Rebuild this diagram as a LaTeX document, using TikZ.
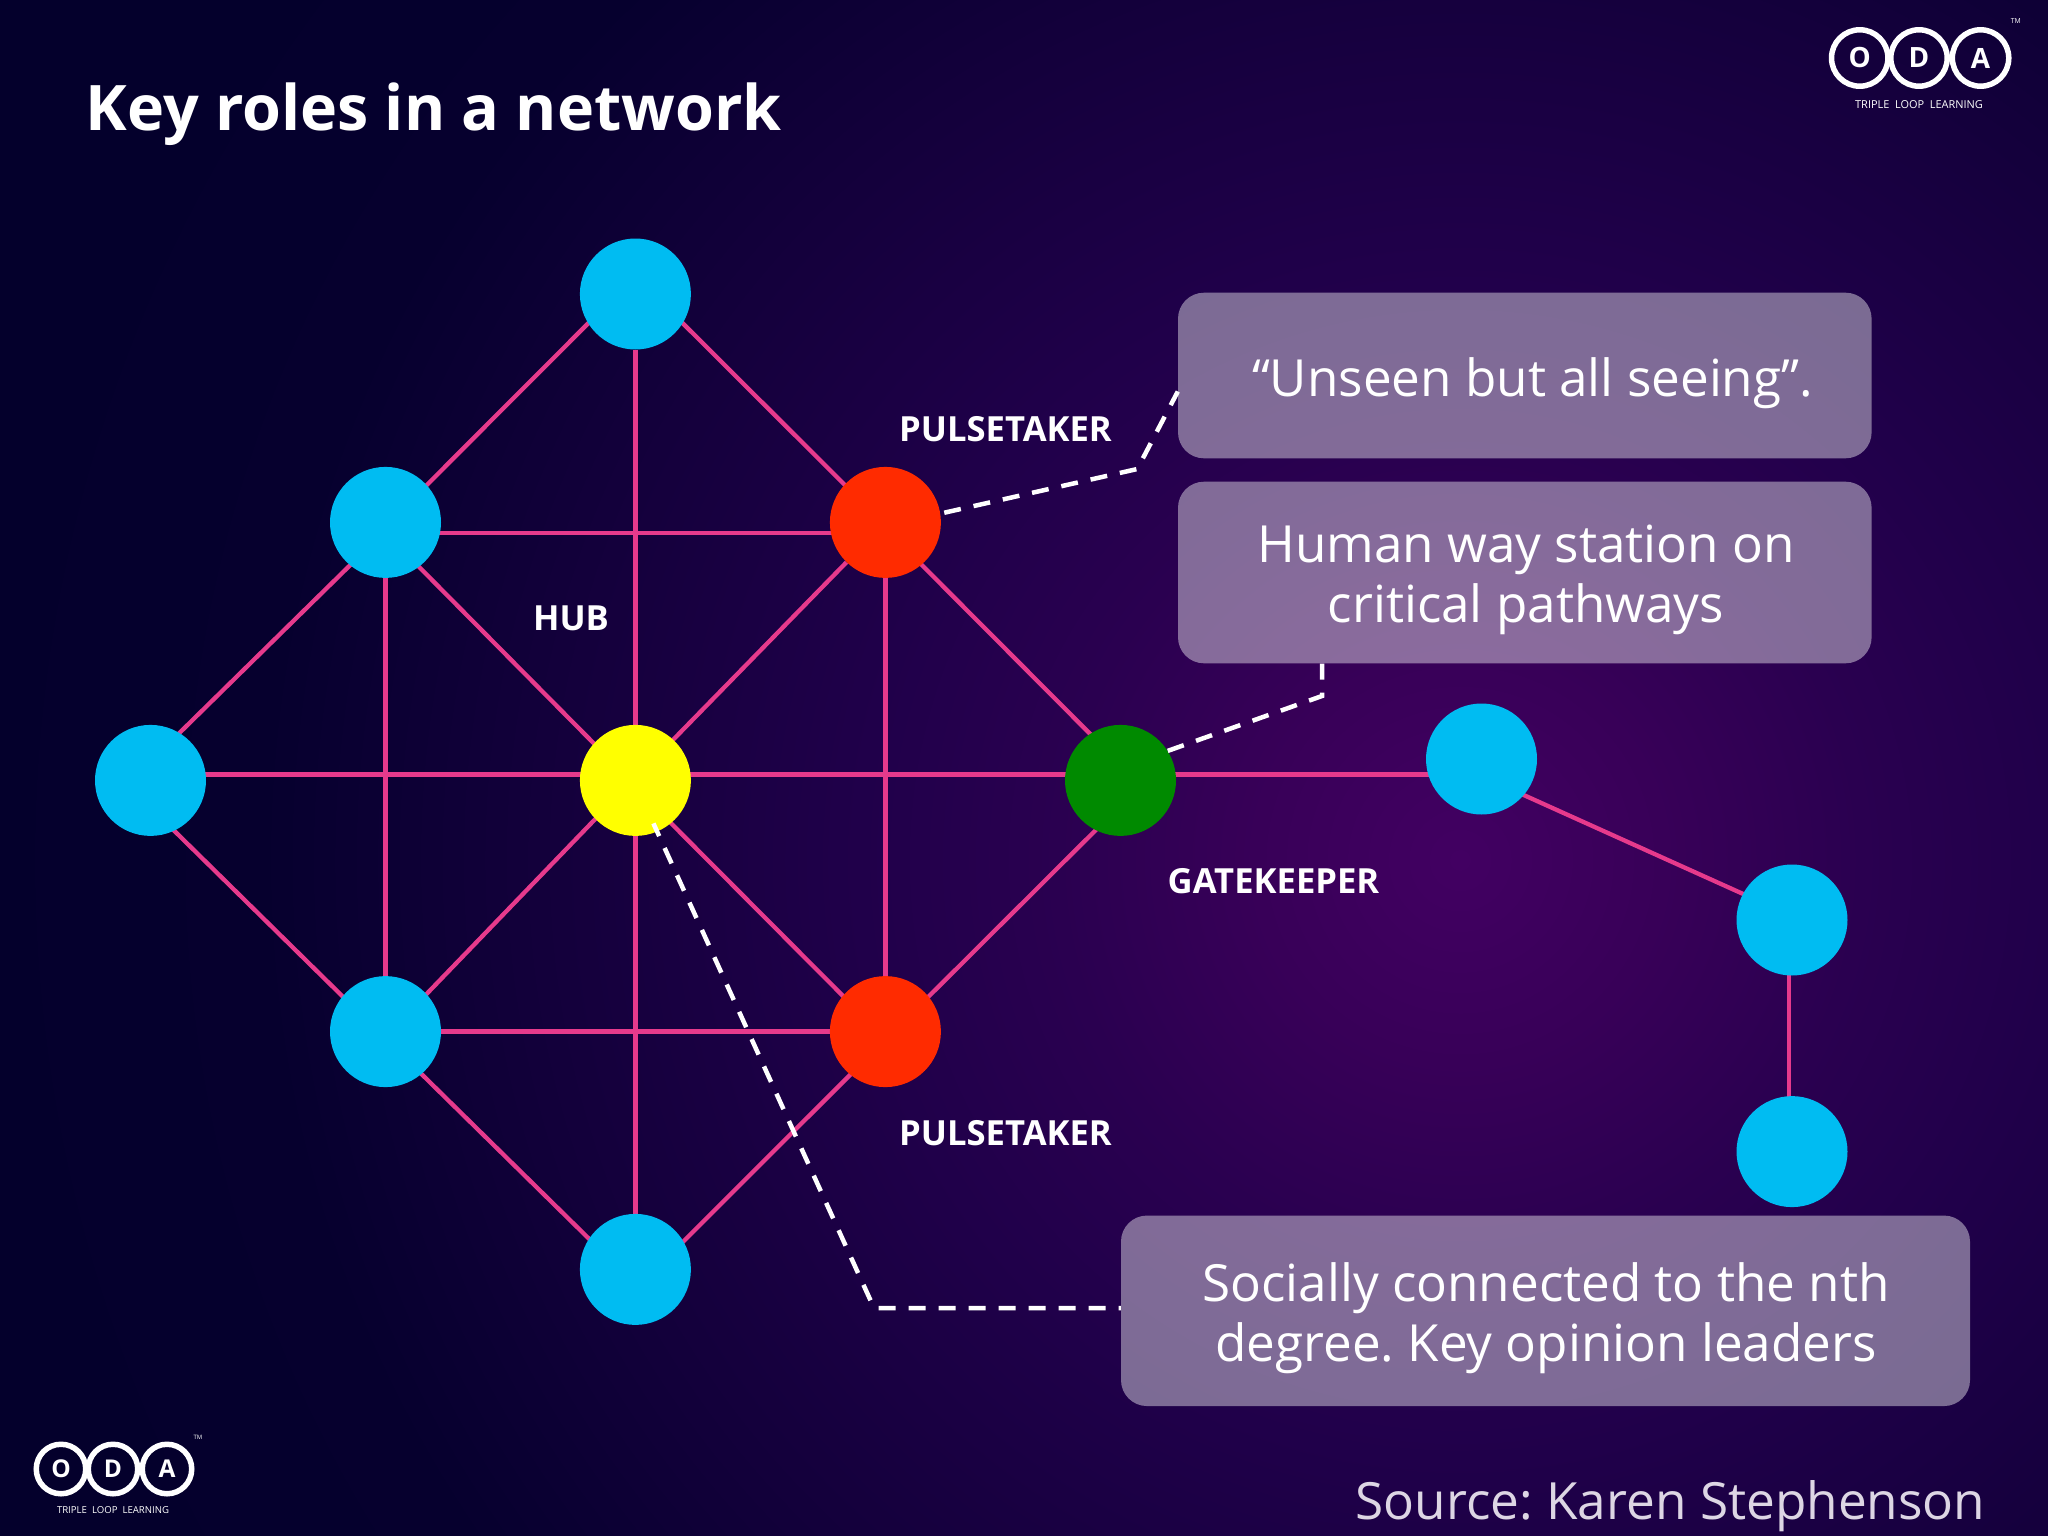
\documentclass[tikz,border=0pt]{standalone}
\usepackage{fontspec}
\setmainfont{Open Sans}
\usetikzlibrary{backgrounds}
\definecolor{netpink}{HTML}{E63A8C}
\definecolor{peerblue}{HTML}{00BCF2}
\definecolor{hubyellow}{HTML}{FFFF00}
\definecolor{pulsered}{HTML}{FF2B00}
\definecolor{gategreen}{HTML}{008A00}
\definecolor{sourcegrey}{HTML}{DDD6E4}
\definecolor{edgenavy}{HTML}{04002C}
\definecolor{glowa}{HTML}{420062}
\definecolor{glowb}{HTML}{380058}
\definecolor{glowc}{HTML}{2A0050}
\definecolor{glowd}{HTML}{20004A}
\definecolor{glowe}{HTML}{14003C}
\definecolor{glowf}{HTML}{06002E}
\pgfdeclareradialshading{bgglow}{\pgfpoint{0bp}{0bp}}{color(0bp)=(glowa);color(3.4bp)=(glowb);color(6.7bp)=(glowc);color(10bp)=(glowd);color(15bp)=(glowe);color(20bp)=(glowf);color(25bp)=(edgenavy);color(50bp)=(edgenavy)}
\tikzset{
  person/.style={circle,minimum size=111pt,inner sep=0pt,fill=#1},
  link/.style={netpink,line width=4.3pt},
  leader/.style={white,line width=4.5pt,dash pattern=on 17pt off 13pt},
  rolelabel/.style={white,font=\bfseries\fontsize{34.6}{40}\selectfont,inner sep=0pt},
  notebox/.style={rounded corners=26pt,fill=white,fill opacity=0.42,inner sep=0pt},
  notetext/.style={text=white,inner sep=0pt,align=center,font=\fontsize{51.2}{60}\selectfont},
  logoring/.style={circle,draw=white,line width=5.5pt,minimum size=49.5pt,inner sep=0pt,text=white,font=\bfseries\fontsize{24.5}{30}\selectfont,transform shape},
  odalogo/.pic={
    \node[logoring] (-o) at (-52,0) {O};
    \node[logoring] (-d) at (0,0) {D};
    \node[logoring] (-a) at (54,0) {A};
    \node[white,inner sep=0pt,font=\fontsize{9.6}{10}\selectfont,transform shape] (-caption) at (0,41) {TRIPLE\ \ LOOP\ \ LEARNING};
    \node[white,inner sep=0pt,font=\fontsize{6}{7}\selectfont,transform shape] (-tm) at (85,-32) {TM};
  }
}
\begin{document}
\frenchspacing
\begin{tikzpicture}[x=1pt,y=-1pt]
\useasboundingbox (0,0) rectangle (2048,1536);

\node[person=peerblue] (top) at (635.4,294) {};
\node[person=peerblue] (ul) at (385.5,522.4) {};
\node[person=pulsered] (ur) at (885.4,522.4) {};
\node[person=peerblue] (left) at (150.5,780.4) {};
\node[person=hubyellow] (hub) at (635.4,780.4) {};
\node[person=gategreen] (gate) at (1120.5,780.4) {};
\node[person=peerblue] (ll) at (385.5,1031.6) {};
\node[person=pulsered] (lr) at (885.4,1031.6) {};
\node[person=peerblue] (bottom) at (635.4,1269.4) {};
\node[person=peerblue] (r1) at (1481.5,759) {};
\node[person=peerblue] (r2) at (1792,920) {};
\node[person=peerblue] (r3) at (1792,1151.6) {};

\begin{scope}[on background layer]
\clip (0,0) rectangle (2048,1536);
\fill[edgenavy] (0,0) rectangle (2048,1536);
\shade[shading=bgglow] (1460,860) circle (1500);
\draw[link] ([yshift=18pt]top.center) -- ([yshift=-4pt]ul.center);
\draw[link] ([yshift=18pt]top.center) -- ([yshift=-3pt]ur.center);
\draw[link] (top) -- (hub);
\draw[link] (hub) -- (bottom);
\draw[link] ([yshift=-10.6pt]ul.center) -- ([yshift=-10.6pt]ur.center);
\draw[link] ([yshift=-10.6pt]ul.center) -- ([yshift=-5pt]hub.center);
\draw[link] ([yshift=-8pt]ul.center) -- ([yshift=19pt]left.center);
\draw[link] (ul) -- (ll);
\draw[link] ([yshift=6pt]left.center) -- ([yshift=6pt]gate.center);
\draw[link] ([yshift=-27pt]left.center) -- ([yshift=-7pt]ll.center);
\draw[link] ([yshift=-5pt]ll.center) -- ([yshift=3pt]hub.center);
\draw[link] (ll) -- (lr);
\draw[link] ([yshift=-7pt]ll.center) -- ([yshift=-15pt]bottom.center);
\draw[link] ([yshift=2pt]hub.center) -- (ur);
\draw[link] ([yshift=-7pt]hub.center) -- ([yshift=-7pt]lr.center);
\draw[link] (ur) -- (lr);
\draw[link] ([yshift=-6pt]ur.center) -- ([yshift=16pt]gate.center);
\draw[link] ([yshift=-25pt]gate.center) -- ([yshift=-8pt]lr.center);
\draw[link] ([yshift=-8pt]lr.center) -- ([yshift=-20pt]bottom.center);
\draw[link] ([yshift=6pt]gate.center) -- ([yshift=-15.4pt]r1.center);
\draw[link] ([yshift=-17pt]r1.center) -- ([yshift=4pt]r2.center);
\draw[link] ([xshift=-3pt]r2.center) -- ([xshift=-3pt]r3.center);
\end{scope}

\node[notebox,minimum width=693.6pt,minimum height=165.6pt] (seeing) at (1524.8,375.5) {};
\node[notebox,minimum width=693.6pt,minimum height=181.6pt] (waystation) at (1524.8,572.5) {};
\node[notebox,minimum width=849pt,minimum height=190.5pt] (connected) at (1545.5,1310.8) {};
\node[notetext] (seeingtext) at (1532.5,383.5) {“Unseen but all seeing”.};
\node[notetext] (waystationtext) at (1526,580) {Human way station on\\critical pathways};
\node[notetext] (connectedtext) at (1546,1318) {Socially connected to the nth\\degree. Key opinion leaders};

\coordinate (pulseknee) at (1137.3,469);
\coordinate (gateknee) at (1322,696);
\coordinate (hubknee) at (874,1308);
\draw[leader] ([xshift=4pt]ur.10) -- (pulseknee) -- ([yshift=-16pt]seeing.west);
\draw[leader] (gate.32) -- (gateknee) -- (gateknee |- waystation.south);
\draw[leader,dash phase=3pt] ([xshift=18pt,yshift=-43pt]hub.center) -- (hubknee) -- (hubknee -| connected.west);

\node[white,inner sep=0pt,font=\bfseries\fontsize{62.8}{70}\selectfont] (title) at (433.6,114.5) {Key roles in a network};
\node[rolelabel] (pulsetop) at (1005.5,429) {PULSETAKER};
\node[rolelabel] (pulsebottom) at (1005.5,1133.5) {PULSETAKER};
\node[rolelabel] (hublabel) at (571,618) {HUB};
\node[rolelabel] (gatelabel) at (1273.5,881.5) {GATEKEEPER};
\node[sourcegrey,inner sep=0pt,font=\fontsize{51.3}{60}\selectfont] (source) at (1670.5,1506) {Source: Karen Stephenson};

\pic[scale=1.14] (logotop) at (1919,58) {odalogo};
\pic (logobottom) at (113,1469) {odalogo};
\end{tikzpicture}
\end{document}
